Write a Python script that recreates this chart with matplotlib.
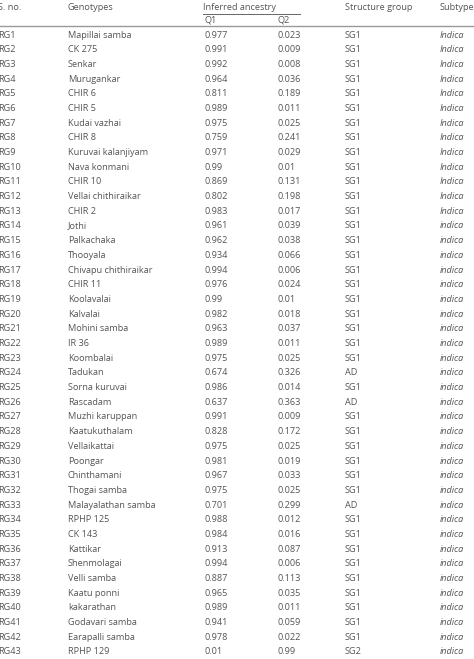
import matplotlib.pyplot as plt

plt.rcParams['font.family'] = ['Open Sans', 'DejaVu Sans']

ids = ['RG%d' % i for i in range(1, 44)]
genotypes = ['Mapillai samba', 'CK 275', 'Senkar', 'Murugankar', 'CHIR 6', 'CHIR 5',
             'Kudai vazhai', 'CHIR 8', 'Kuruvai kalanjiyam', 'Nava konmani', 'CHIR 10',
             'Vellai chithiraikar', 'CHIR 2', 'Jothi', 'Palkachaka', 'Thooyala',
             'Chivapu chithiraikar', 'CHIR 11', 'Koolavalai', 'Kalvalai', 'Mohini samba',
             'IR 36', 'Koombalai', 'Tadukan', 'Sorna kuruvai', 'Rascadam', 'Muzhi karuppan',
             'Kaatukuthalam', 'Vellaikattai', 'Poongar', 'Chinthamani', 'Thogai samba',
             'Malayalathan samba', 'RPHP 125', 'CK 143', 'Kattikar', 'Shenmolagai',
             'Velli samba', 'Kaatu ponni', 'kakarathan', 'Godavari samba',
             'Earapalli samba', 'RPHP 129']
q1 = ['0.977', '0.991', '0.992', '0.964', '0.811', '0.989', '0.975', '0.759', '0.971', '0.99',
      '0.869', '0.802', '0.983', '0.961', '0.962', '0.934', '0.994', '0.976', '0.99', '0.982',
      '0.963', '0.989', '0.975', '0.674', '0.986', '0.637', '0.991', '0.828', '0.975', '0.981',
      '0.967', '0.975', '0.701', '0.988', '0.984', '0.913', '0.994', '0.887', '0.965', '0.989',
      '0.941', '0.978', '0.01']
q2 = ['0.023', '0.009', '0.008', '0.036', '0.189', '0.011', '0.025', '0.241', '0.029', '0.01',
      '0.131', '0.198', '0.017', '0.039', '0.038', '0.066', '0.006', '0.024', '0.01', '0.018',
      '0.037', '0.011', '0.025', '0.326', '0.014', '0.363', '0.009', '0.172', '0.025', '0.019',
      '0.033', '0.025', '0.299', '0.012', '0.016', '0.087', '0.006', '0.113', '0.035', '0.011',
      '0.059', '0.022', '0.99']
groups = ['SG1'] * 23 + ['AD', 'SG1', 'AD', 'SG1', 'SG1', 'SG1', 'SG1', 'SG1', 'SG1', 'AD',
                         'SG1', 'SG1', 'SG1', 'SG1', 'SG1', 'SG1', 'SG1', 'SG1', 'SG1', 'SG2']
subtypes = ['Indica'] * 13 + ['indica'] * 30

fig = plt.figure(figsize=(4.74, 6.59), dpi=100)
ax = fig.add_axes([0, 0, 1, 1])
ax.set_xlim(0, 474)
ax.set_ylim(659, 0)
ax.axis('off')

col = '#555555'
fs = 6.6
cols_x = [-1.5, 68, 205, 278, 345, 440]

ax.text(-2, 7, 'S. no.', fontsize=fs, color=col, va='center')
ax.text(68, 7, 'Genotypes', fontsize=fs, color=col, va='center')
ax.text(203, 7, 'Inferred ancestry', fontsize=fs, color=col, va='center')
ax.text(345, 7, 'Structure group', fontsize=fs, color=col, va='center')
ax.text(440, 7, 'Subtype', fontsize=fs, color=col, va='center')
ax.text(205, 20, 'Q1', fontsize=fs, color=col, va='center')
ax.text(278, 20, 'Q2', fontsize=fs, color=col, va='center')
ax.plot([203, 300], [13.5, 13.5], color='#666666', lw=0.7)
ax.plot([0, 474], [26, 26], color='#999999', lw=1.0)

y0, dy = 35, (652 - 35) / 42
for i in range(len(ids)):
    y = y0 + i * dy
    vals = [ids[i], genotypes[i], q1[i], q2[i], groups[i]]
    for x, v in zip(cols_x, vals):
        ax.text(x, y, v, fontsize=fs, color=col, va='center')
    ax.text(cols_x[5], y, subtypes[i], fontsize=fs, color=col, va='center', style='italic')

fig.savefig('out.png', dpi=100)
